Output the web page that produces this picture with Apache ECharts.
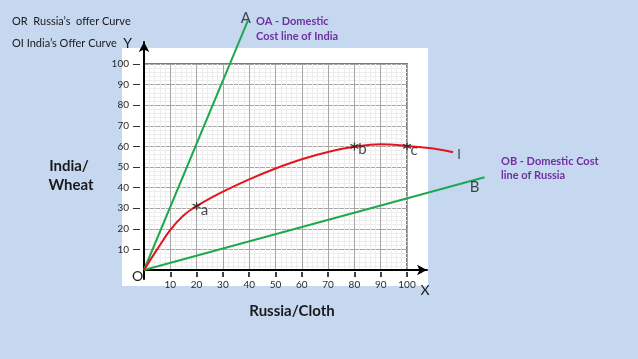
<!DOCTYPE html>
<html><head><meta charset="utf-8">
<script src="https://cdn.jsdelivr.net/npm/echarts@6/dist/echarts.min.js"></script>
<style>html,body{margin:0;padding:0;background:#c5d8f0;}#c{width:638px;height:359px;}</style>
</head><body><div id="c"></div>
<script>
// ---- data ----
const xTicks = [10, 20, 30, 40, 50, 60, 70, 80, 90, 100];
const yTicks = [10, 20, 30, 40, 50, 60, 70, 80, 90, 100];
const lineOA = [[0, 0], [39.5, 121]];          // OA - domestic cost line of India
const lineOB = [[0, 0], [129.5, 45]];          // OB - domestic cost line of Russia
const offerCurveOI = [[0, 0], [5, 10], [10, 19.5], [15, 26.5], [20, 31], [30, 38], [40, 44],
  [50, 49.3], [60, 53.8], [70, 57.3], [80, 59.8], [90, 61], [100, 60.2], [110, 59], [117.5, 57.2]];
const starPoints = [{ name: 'a', value: [20, 31] }, { name: 'b', value: [80, 60] }, { name: 'c', value: [100, 60] }];
const endPoints = [{ name: 'A', value: [39.5, 121] }, { name: 'B', value: [129.5, 45] }, { name: 'I', value: [117.5, 57.2] }];

const FONT = 'Lato, "Open Sans", sans-serif';
const chart = echarts.init(document.getElementById('c'), null, { renderer: 'canvas' });

const starOffsets = { a: [8, 4], b: [8, 3], c: [7, 4] };
const endOffsets = { A: [-2, -3], B: [-10, 10], I: [6, 3] };

// plot scale (pixels per data unit) shared by the visible grid and the unclipped data grid
const PX_X = 2.63, PX_Y = 2.06, X0 = 144, Y0 = 270;
const DATA_XMAX = 140, DATA_YMAX = 130;

function txt(x, y, text, opt) {
  return Object.assign({ type: 'text', x: x, y: y, z: 100,
    style: Object.assign({ text: text, fill: '#1a1a1a', fontFamily: FONT, fontSize: 11, verticalAlign: 'middle', align: 'left' }, opt || {}) });
}

const option = {
  backgroundColor: '#c5d8f0',
  animation: false,
  graphic: [
    { type: 'rect', z: -100, shape: { x: 122, y: 48, width: 306, height: 238 }, style: { fill: '#ffffff' } },
    txt(12, 21, 'OR  Russia’s  offer Curve'),
    txt(12, 43, 'OI India’s Offer Curve'),
    txt(127.5, 43, 'Y', { fontSize: 14, align: 'center' }),
    txt(256, 21, 'OA - Domestic', { fill: '#7030a0', fontWeight: 'bold' }),
    txt(256, 36, 'Cost line of India', { fill: '#7030a0', fontWeight: 'bold' }),
    txt(501, 161, 'OB - Domestic Cost', { fill: '#7030a0', fontWeight: 'bold' }),
    txt(501, 175, 'line of Russia', { fill: '#7030a0', fontWeight: 'bold' }),
    txt(69, 166, 'India/', { fontSize: 15, fontWeight: 'bold', align: 'center' }),
    txt(71, 185, 'Wheat', { fontSize: 15, fontWeight: 'bold', align: 'center' }),
    txt(292, 311, 'Russia/Cloth', { fontSize: 15, fontWeight: 'bold', align: 'center' }),
    txt(137.5, 276, 'O', { fontSize: 14, align: 'center' }),
    txt(425, 290, 'X', { fontSize: 14, align: 'center' })
  ],
  grid: [
    { left: X0, top: Y0 - 100 * PX_Y, width: 100 * PX_X, height: 100 * PX_Y, show: true, borderColor: '#7a7a7a', borderWidth: 2,
      backgroundColor: 'transparent', outerBoundsMode: 'none' },
    { left: 144, top: 42, width: 283, height: 237, show: false, outerBoundsMode: 'none' },
    { left: X0, top: Y0 - DATA_YMAX * PX_Y, width: DATA_XMAX * PX_X, height: DATA_YMAX * PX_Y, show: false, outerBoundsMode: 'none' }
  ],
  xAxis: [
    { gridIndex: 0, type: 'value', min: 0, max: 100, interval: 10, offset: 2,
      axisLine: { show: false, onZero: false },
      axisTick: { show: true, length: 5, customValues: xTicks, lineStyle: { color: '#000', width: 1.5 } },
      axisLabel: { customValues: xTicks, margin: 8, fontSize: 10, color: '#2a2a2a', fontFamily: FONT },
      splitLine: { show: true, lineStyle: { color: '#a6a6a6', width: 1 } },
      minorTick: { show: false, splitNumber: 5 },
      minorSplitLine: { show: true, lineStyle: { color: '#ededed', width: 1 } } },
    { gridIndex: 1, type: 'value', min: 0, max: 283,
      axisLine: { show: true, onZero: true, symbol: ['none', 'arrow'], symbolSize: [8, 10], lineStyle: { color: '#000', width: 2 } },
      axisTick: { show: false }, axisLabel: { show: false }, splitLine: { show: false } },
    { gridIndex: 2, type: 'value', min: 0, max: DATA_XMAX, show: false }
  ],
  yAxis: [
    { gridIndex: 0, type: 'value', min: 0, max: 100, interval: 10, offset: 4,
      axisLine: { show: false, onZero: false },
      axisTick: { show: true, length: 7, customValues: yTicks, lineStyle: { color: '#333', width: 1 } },
      axisLabel: { customValues: yTicks, margin: 11, fontSize: 10, color: '#2a2a2a', fontFamily: FONT },
      splitLine: { show: true, lineStyle: { color: '#a6a6a6', width: 1 } },
      minorTick: { show: false, splitNumber: 5 },
      minorSplitLine: { show: true, lineStyle: { color: '#ededed', width: 1 } } },
    { gridIndex: 1, type: 'value', min: -9, max: 228,
      axisLine: { show: true, onZero: true, symbol: ['none', 'arrow'], symbolSize: [8, 10], lineStyle: { color: '#000', width: 2 } },
      axisTick: { show: false }, axisLabel: { show: false }, splitLine: { show: false } },
    { gridIndex: 2, type: 'value', min: 0, max: DATA_YMAX, show: false }
  ],
  series: [
    { type: 'line', xAxisIndex: 2, yAxisIndex: 2, data: lineOA, symbol: 'none', silent: true, z: 3,
      lineStyle: { color: '#1fa84f', width: 2 } },
    { type: 'line', xAxisIndex: 2, yAxisIndex: 2, data: lineOB, symbol: 'none', silent: true, z: 3,
      lineStyle: { color: '#1fa84f', width: 2 } },
    { type: 'line', xAxisIndex: 2, yAxisIndex: 2, data: offerCurveOI, symbol: 'none', silent: true, z: 4,
      smooth: 0.4, lineStyle: { color: '#e3161e', width: 2 } },
    { type: 'scatter', xAxisIndex: 2, yAxisIndex: 2, silent: true, z: 5,
      symbol: 'path://M5 0L5 10M0.7 2.5L9.3 7.5M9.3 2.5L0.7 7.5', symbolSize: 8,
      itemStyle: { color: 'transparent', borderColor: '#222', borderWidth: 1.3 },
      data: starPoints.map(p => ({ name: p.name, value: p.value,
        label: { show: true, formatter: '{b}', position: 'inside', offset: starOffsets[p.name], fontSize: 15, color: '#1a1a1a', fontFamily: FONT } })) },
    { type: 'scatter', xAxisIndex: 2, yAxisIndex: 2, silent: true, z: 5,
      symbolSize: 0.1, itemStyle: { color: 'transparent' },
      data: endPoints.map(p => ({ name: p.name, value: p.value,
        label: { show: true, formatter: '{b}', position: 'inside', offset: endOffsets[p.name], fontSize: p.name === 'I' ? 13 : 15, color: '#1a1a1a', fontFamily: FONT } })) }
  ]
};
chart.setOption(option);
</script></body></html>
